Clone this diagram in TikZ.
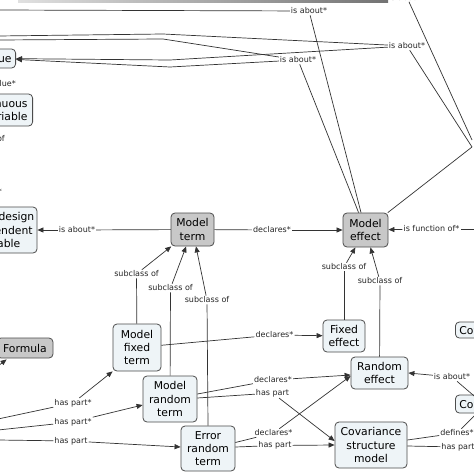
\documentclass[tikz,border=0pt]{standalone}
\usepackage{fontspec}
\setmainfont{DejaVu Sans}
\usetikzlibrary{arrows.meta,calc}
\definecolor{boxblue}{HTML}{EEF4F7}
\definecolor{boxgray}{HTML}{C8C8C8}
\begin{document}
\begin{tikzpicture}[x=1pt,y=-1pt,
  box/.style={draw=black!70, line width=0.8pt, rounded corners=4pt, align=center, inner sep=0pt, font=\fontsize{10.8}{13.2}\selectfont, fill=boxblue},
  gbox/.style={box, fill=boxgray},
  lbl/.style={font=\fontsize{8}{9}\selectfont, inner sep=1pt, text=black!85},
  con/.style={draw=black!80, line width=0.7pt},
  arr/.style={con, -{Triangle[length=6pt,width=5pt]}},
]
\useasboundingbox (0,0) rectangle (474,474);
\clip (0,0) rectangle (474,474);
\fill[white] (0,0) rectangle (474,474);

% top partial node
\shade[left color=black!12, right color=black!55] (18,-12) rectangle (388,2);

% nodes
\node[gbox, minimum width=43pt, minimum height=33pt] (modelterm) at (192.5,229.5) {Model\\term};
\node[gbox, minimum width=45pt, minimum height=34pt] (modeleffect) at (365.5,230) {Model\\effect};
\node[box, minimum width=48pt, minimum height=47pt] (fixedterm) at (137,347.5) {Model\\fixed\\term};
\node[box, minimum width=54pt, minimum height=46pt] (randomterm) at (170,399) {Model\\random\\term};
\node[box, minimum width=54pt, minimum height=45pt] (errorterm) at (208,448.5) {Error\\random\\term};
\node[gbox, minimum width=56pt, minimum height=20pt] (formula) at (25,348) {Formula};
\node[box, minimum width=42pt, minimum height=32pt] (fixedeffect) at (344,336) {Fixed\\effect};
\node[box, minimum width=57pt, minimum height=32pt] (randomeffect) at (379.5,373) {Random\\effect};
\node[box, minimum width=72pt, minimum height=46pt] (covmodel) at (371,445) {Covariance\\structure\\model};
\node[box, anchor=west, text width=76pt, align=left, inner xsep=4pt, minimum height=16pt] (co1) at (455,330) {Covariance};
\node[box, anchor=west, text width=76pt, align=left, inner xsep=4pt, minimum height=18pt] (co2) at (455,404) {Covariance};
\node[box, anchor=east, minimum height=19pt, inner xsep=4pt] (value) at (16,58.5) {Value};
\node[box, anchor=east, minimum height=32pt, inner xsep=5pt, align=right] (contvar) at (33,110) {Continuous\\variable};
\node[box, minimum width=77pt, minimum height=46pt] (designvar) at (-1.5,230) {Model design\\independent\\variable};

% labels
\node[lbl] (lab1) at (309,11) {is about*};
\node[lbl] (lab2) at (298,60) {is about*};
\node[lbl] (lab3) at (407,46) {is about*};
\node[lbl, anchor=base] (lab0) at (407,0.5) {is about*};
\node[lbl, anchor=east] (labv) at (17,84) {has value*};
\node[lbl, anchor=east] (labs) at (6,139) {subclass of};
\node[lbl, anchor=east] (labt) at (3,192) {is about*};
\node[lbl] (labA) at (77,230) {is about*};
\node[lbl] (labB) at (272,230) {declares*};
\node[lbl] (labC) at (431.5,229) {is function of*};
\node[lbl] (sub1) at (136.5,274) {subclass of};
\node[lbl] (sub2) at (170.5,288) {subclass of};
\node[lbl] (sub3) at (207,300) {subclass of};
\node[lbl] (subE1) at (344,267) {subclass of};
\node[lbl] (subE2) at (380,281) {subclass of};
\node[lbl] (dec1) at (274.5,335) {declares*};
\node[lbl] (dec2) at (273,380) {declares*};
\node[lbl] (hp1) at (272.5,393) {has part};
\node[lbl] (dec3) at (273.5,433) {declares*};
\node[lbl] (hp2) at (275,445.5) {has part};
\node[lbl] (def) at (457,433) {defines*};
\node[lbl] (hp3) at (458,447) {has part};
\node[lbl] (isab) at (452,377) {is about*};
\node[lbl] (hpA) at (73,403) {has part*};
\node[lbl] (hpB) at (73,422) {has part*};
\node[lbl] (hpC) at (71,441) {has part};

% free ends and bends
\coordinate (e1) at (-2,10);
\coordinate (e2) at (-2,36);
\coordinate (e3) at (-2,40);
\coordinate (k1) at (163,34);
\coordinate (k2) at (163,39);
\coordinate (b1) at (170,60);
\coordinate (b2) at (170,67);
\coordinate (r0) at (472,140);
\coordinate (r1) at (472,147);
\coordinate (fr) at (476,229);
\coordinate (c2a) at (478,412);
\coordinate (c2b) at (480,401);
\coordinate (fa) at (-2,366);
\coordinate (hl1) at (-2,419);
\coordinate (hl2) at (-2,430);
\coordinate (hl3) at (-2,440);

% top connectors
\draw[con] (e1) -- (lab1);
\draw[con] (lab1) -- (modeleffect);
\draw[con] (lab2) -- (modeleffect);
\draw[con] (lab3) -- (r1);
\draw[con] (modeleffect) -- (r1);
\draw[con] (lab0) -- (r0);
\draw[con] (e2) -- (k1) -- (lab3);
\draw[con] (e3) -- (k2) -- (lab2);
\draw[arr] (lab3) -- (b1) -- (value);
\draw[arr] (lab2) -- (b2) -- (value);

% middle
\draw[con] (modelterm) -- (labA);
\draw[arr] (labA) -- (designvar);
\draw[con] (modelterm) -- (labB);
\draw[arr] (labB) -- (modeleffect);
\draw[con] (fr) -- (labC);
\draw[arr] (labC) -- (modeleffect);
\draw[con] (fixedterm) -- (sub1);
\draw[arr] (sub1) -- (modelterm);
\draw[con] (randomterm) -- (sub2);
\draw[arr] (sub2) -- (modelterm);
\draw[con] (errorterm.north) -- (sub3);
\draw[arr] (sub3) -- (modelterm);
\draw[con] (fixedeffect) -- (subE1);
\draw[arr] (subE1) -- (modeleffect);
\draw[con] (randomeffect) -- (subE2);
\draw[arr] (subE2) -- (modeleffect);

% lower
\draw[con] (fixedterm) -- (dec1);
\draw[arr] (dec1) -- (fixedeffect);
\draw[con] ($(randomterm.east)+(0,-5)$) -- (dec2);
\draw[arr] (dec2) -- ($(randomeffect.west)+(0,2)$);
\draw[con] ($(randomterm.east)+(0,-1)$) -- (hp1);
\draw[arr] (hp1) -- ($(covmodel.west)+(0,-4)$);
\draw[con] ($(errorterm.east)+(0,-6)$) -- (dec3);
\draw[arr] (dec3) -- ($(randomeffect.west)+(0,3)$);
\draw[con] ($(errorterm.east)+(0,-1.5)$) -- (hp2);
\draw[arr] (hp2) -- (covmodel.west);
\draw[con] ($(covmodel.east)+(0,-5)$) -- (def);
\draw[con] (def) -- (c2a);
\draw[con] ($(covmodel.east)+(0,1)$) -- (hp3);
\draw[arr] (isab) -- (randomeffect.east);
\draw[con] (isab) -- (c2b);

% left
\draw[con] (hl1) -- (hpA);
\draw[arr] (hpA) -- ($(fixedterm.south west)+(0,0)$);
\draw[con] (hl2) -- (hpB);
\draw[arr] (hpB) -- ($(randomterm.west)+(0,6)$);
\draw[con] (hl3) -- (hpC);
\draw[arr] (hpC) -- ($(errorterm.west)+(0,-1.5)$);
\draw[arr] (fa) -- ($(formula.south west)+(10,1)$);
\end{tikzpicture}
\end{document}
